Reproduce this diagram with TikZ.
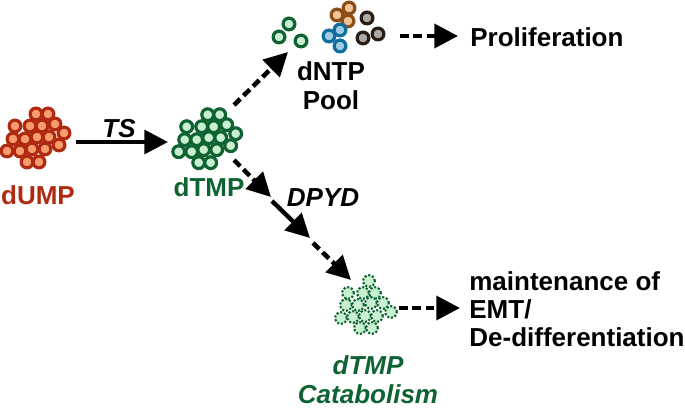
\documentclass[tikz,border=0pt]{standalone}
\usepackage{fontspec}
\setmainfont{Liberation Sans}
\usetikzlibrary{arrows.meta}
\definecolor{dumpred}{HTML}{B02A12}
\definecolor{dumplight}{HTML}{F89C6E}
\definecolor{tmpgreen}{HTML}{0F6332}
\definecolor{tmplight}{HTML}{C8F0D0}
\definecolor{ntpbrown}{HTML}{8C4E14}
\definecolor{ntpbrownlight}{HTML}{EFC49A}
\definecolor{ntpblue}{HTML}{0E6E9E}
\definecolor{ntpbluelight}{HTML}{A0CADF}
\definecolor{ntpblack}{HTML}{2A1E14}
\definecolor{ntpblacklight}{HTML}{AAAAAA}
\tikzset{
  cell/.style 2 args={circle,draw=#1,fill=#2,line width=1.8pt,minimum size=6.7pt,inner sep=0pt},
  catcell/.style={circle,draw=tmpgreen,fill=tmplight,line width=1.2pt,dash pattern=on 1.2pt off 1pt,minimum size=6.6pt,inner sep=0pt},
  lbl/.style={font=\fontsize{14.8}{18}\selectfont\bfseries,inner sep=0pt},
  biglbl/.style={lbl,align=left,anchor=west},
  tip/.style={-{Triangle[length=13.5pt,width=13.5pt]}},
  solidarrow/.style={tip,line width=2.5pt},
  dasharrow/.style={tip,line width=2.6pt,dash pattern=on 5pt off 2.6pt}
}
\begin{document}
\begin{tikzpicture}[x=0.02cm,y=-0.02cm]
\useasboundingbox (0,0) rectangle (685,408);
% dUMP and dTMP clusters
\foreach \cx/\cy [count=\i] in {36/24,48/24,15/36,30/36,42/36,55/34,64/43,13/49,25/49,37/47,49/47,59/55,7/61,20/61,32/59,45/59,27/72,39/72} {
  \node[cell={dumpred}{dumplight}] (ump\i) at (\cx,90+\cy) {};
  \node[cell={tmpgreen}{tmplight}] (tmp\i) at (171.7+\cx,90.7+\cy) {};
}
% catabolism cluster
\foreach \cx/\cy [count=\i] in {369/281,348/293,363/293,375/293,346/305,358/305,371/303,383/303,391/312,341/318,353/317,365/316,377/316,360/328,372/328} {
  \node[catcell] (cat\i) at (\cx,\cy) {};
}
% dNTP pool
\node[cell={tmpgreen}{tmplight}] (gr1) at (289,24) {};
\node[cell={tmpgreen}{tmplight}] (gr2) at (279,37) {};
\node[cell={tmpgreen}{tmplight}] (gr3) at (301,41) {};
\node[cell={ntpbrown}{ntpbrownlight}] (br1) at (349,8) {};
\node[cell={ntpbrown}{ntpbrownlight}] (br2) at (337,15) {};
\node[cell={ntpbrown}{ntpbrownlight}] (br3) at (348,21) {};
\node[cell={ntpblue}{ntpbluelight}] (bl1) at (340,30) {};
\node[cell={ntpblue}{ntpbluelight}] (bl2) at (329,36) {};
\node[cell={ntpblue}{ntpbluelight}] (bl3) at (340,46) {};
\node[cell={ntpblack}{ntpblacklight}] (bk1) at (367,18) {};
\node[cell={ntpblack}{ntpblacklight}] (bk2) at (378,34) {};
\node[cell={ntpblack}{ntpblacklight}] (bk3) at (363,38) {};
% labels
\node[lbl,text=dumpred] (dump) at (38,195) {dUMP};
\node[lbl,text=tmpgreen] (dtmp) at (209,187) {dTMP};
\node[lbl,align=center,font=\fontsize{14.8}{16.5}\selectfont\bfseries] (dntp) at (331,86) {dNTP\\Pool};
\node[lbl,font=\fontsize{14.8}{18}\selectfont\bfseries\itshape] (ts) at (119,129) {TS};
\node[lbl,font=\fontsize{14.8}{18}\selectfont\bfseries\itshape] (dpyd) at (323,198) {DPYD};
\node[biglbl] (prolif) at (470,37) {Proliferation};
\node[biglbl,font=\fontsize{14.8}{16}\selectfont\bfseries] (emt) at (469,309) {maintenance of\\EMT/\\De-differentiation};
\node[lbl,align=center,text=tmpgreen,font=\fontsize{14.8}{16.6}\selectfont\bfseries\itshape] (cat) at (368,380) {dTMP\\Catabolism};
% arrows
\coordinate (tsa) at (76,142);
\coordinate (tsb) at (168,142);
\coordinate (poola) at (234,105);
\coordinate (poolb) at (288,52);
\coordinate (prola) at (400,36);
\coordinate (prolb) at (458,36);
\coordinate (dpa) at (234,160);
\coordinate (dpb) at (271,197);
\coordinate (dpc) at (272,201);
\coordinate (dpd) at (310,238);
\coordinate (dpe) at (313,243);
\coordinate (dpf) at (351,280);
\coordinate (emta) at (399,308);
\coordinate (emtb) at (460,308);
\draw[solidarrow] (tsa) -- (tsb);
\draw[dasharrow] (poola) -- (poolb);
\draw[dasharrow] (prola) -- (prolb);
\draw[dasharrow] (dpa) -- (dpb);
\draw[solidarrow] (dpc) -- (dpd);
\draw[dasharrow] (dpe) -- (dpf);
\draw[dasharrow] (emta) -- (emtb);
\end{tikzpicture}
\end{document}
